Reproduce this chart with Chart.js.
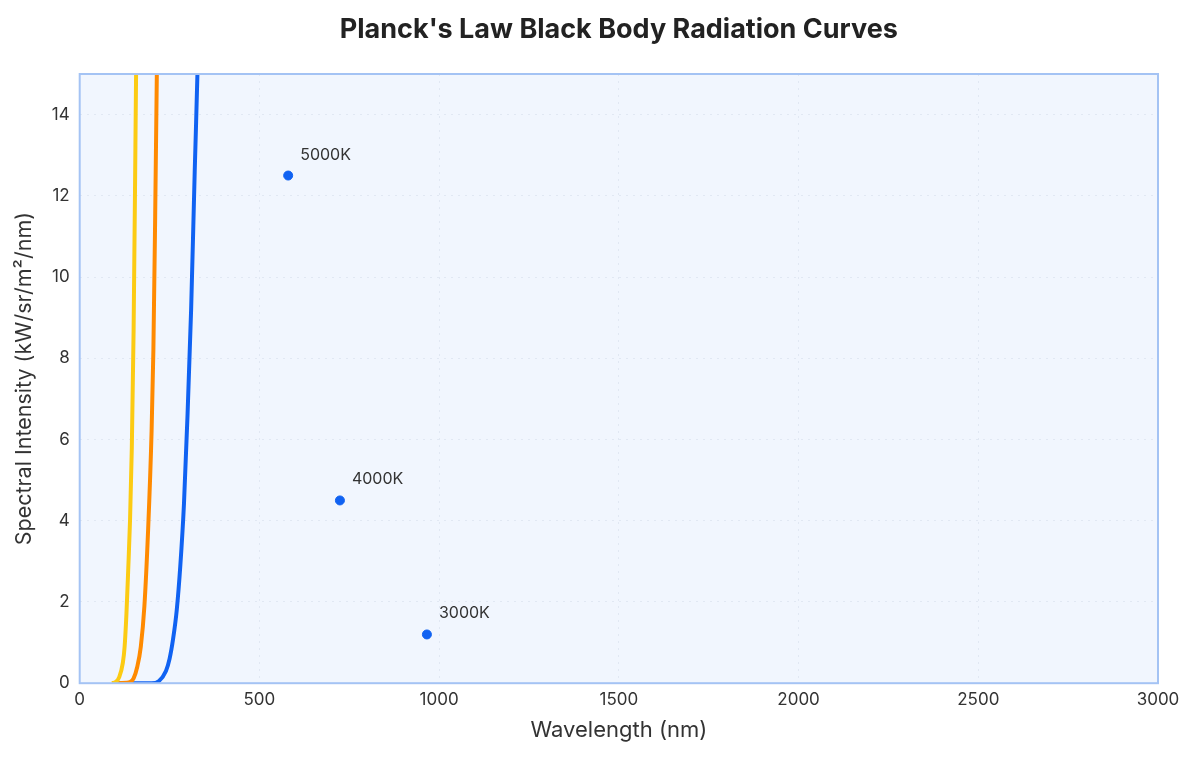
<!DOCTYPE html>
<html>
<head>
<meta charset="utf-8">
<script src="https://cdn.jsdelivr.net/npm/chart.js@4"></script>
<style>
  html, body { margin: 0; padding: 0; background: #fff; }
  #wrap { width: 1200px; height: 760px; }
</style>
</head>
<body>
<div id="wrap"><canvas id="chart" width="1200" height="760"></canvas></div>
<script>
// Data
const wavelength5000 = [90, 100, 110, 120, 125, 130, 135, 140, 145, 150, 155, 160];
const intensity5000  = [0, 0.03, 0.15, 0.5, 0.9, 1.7, 2.8, 4.0, 5.8, 8.7, 13.2, 18];

const wavelength4000 = [90, 130, 140, 150, 160, 170, 180, 190, 200, 205, 210, 215, 220];
const intensity4000  = [0, 0.01, 0.03, 0.12, 0.4, 0.9, 1.9, 3.7, 6.2, 8.2, 11.5, 15.3, 19];

const wavelength3000 = [90, 200, 220, 240, 250, 260, 270, 280, 290, 300, 310, 320, 330, 340];
const intensity3000  = [0, 0, 0.05, 0.3, 0.6, 1.1, 1.8, 2.9, 4.4, 6.6, 9.2, 12.6, 15.8, 20];

const peakWavelengths = [580, 724, 966];
const peakIntensities = [12.5, 4.5, 1.2];
const peakLabels = ['5000K', '4000K', '3000K'];

const xTicks = [0, 500, 1000, 1500, 2000, 2500, 3000];
const yTicks = [0, 2, 4, 6, 8, 10, 12, 14];

const chartTitle = "Planck's Law Black Body Radiation Curves";

const FONT = 'Inter, Lato, "Noto Sans", sans-serif';

function toPoints(xs, ys) {
    return xs.map((x, i) => ({ x: x, y: ys[i] }));
}

// plot background, frame and title centred over the plot
const plotFrame = {
    id: 'plotFrame',
    beforeDraw(chart) {
        const a = chart.chartArea;
        const ctx = chart.ctx;
        ctx.save();
        ctx.fillStyle = '#f1f6fe';
        ctx.fillRect(a.left, a.top, a.right - a.left, a.bottom - a.top);
        ctx.restore();
    },
    afterDatasetsDraw(chart) {
        const a = chart.chartArea;
        const ctx = chart.ctx;
        ctx.save();
        ctx.strokeStyle = '#a4c3f4';
        ctx.lineWidth = 2;
        ctx.strokeRect(a.left, a.top, a.right - a.left, a.bottom - a.top);

        ctx.font = 'bold 27px ' + FONT;
        ctx.fillStyle = '#222';
        ctx.textAlign = 'center';
        ctx.textBaseline = 'middle';
        ctx.fillText(chartTitle, (a.left + a.right) / 2, 30);
        ctx.restore();
    }
};

// labels next to peak points
const peakText = {
    id: 'peakText',
    afterDatasetsDraw(chart) {
        const meta = chart.getDatasetMeta(3);
        const ctx = chart.ctx;
        ctx.save();
        ctx.font = '16px ' + FONT;
        ctx.fillStyle = '#333';
        ctx.textAlign = 'left';
        ctx.textBaseline = 'alphabetic';
        meta.data.forEach((pt, i) => {
            ctx.fillText(peakLabels[i], pt.x + 12, pt.y - 16);
        });
        ctx.restore();
    }
};

const ctx = document.getElementById('chart').getContext('2d');
new Chart(ctx, {
    type: 'line',
    data: {
        datasets: [
            {
                label: '5000K',
                data: toPoints(wavelength5000, intensity5000),
                borderColor: '#fccb13',
                borderWidth: 4,
                pointRadius: 0,
                cubicInterpolationMode: 'monotone',
                fill: false
            },
            {
                label: '4000K',
                data: toPoints(wavelength4000, intensity4000),
                borderColor: '#ff8a00',
                borderWidth: 4,
                pointRadius: 0,
                cubicInterpolationMode: 'monotone',
                fill: false
            },
            {
                label: '3000K',
                data: toPoints(wavelength3000, intensity3000),
                borderColor: '#1062f2',
                borderWidth: 4,
                pointRadius: 0,
                cubicInterpolationMode: 'monotone',
                fill: false
            },
            {
                label: 'Peaks',
                type: 'scatter',
                data: toPoints(peakWavelengths, peakIntensities),
                backgroundColor: '#1062f2',
                borderColor: '#1062f2',
                pointRadius: 4.5,
                showLine: false
            }
        ]
    },
    options: {
        responsive: false,
        animation: false,
        layout: { padding: { left: 8, right: 42, top: 74, bottom: 12 } },
        plugins: {
            legend: { display: false },
            tooltip: { enabled: false },
            title: { display: false }
        },
        scales: {
            x: {
                type: 'linear',
                min: 0,
                max: 3000,
                afterBuildTicks: (axis) => { axis.ticks = xTicks.map(v => ({ value: v })); },
                grid: { color: '#e1e8f3', drawTicks: false },
                border: { display: false, dash: [2, 5] },
                ticks: {
                    color: '#333',
                    font: { family: FONT, size: 17 },
                    padding: 6,
                    callback: (v) => String(v)
                },
                title: {
                    display: true,
                    text: 'Wavelength (nm)',
                    color: '#333',
                    font: { family: FONT, size: 22 },
                    padding: { top: 2 }
                }
            },
            y: {
                min: 0,
                max: 15,
                afterBuildTicks: (axis) => { axis.ticks = yTicks.map(v => ({ value: v })); },
                grid: { color: '#e1e8f3', drawTicks: false },
                border: { display: false, dash: [2, 5] },
                ticks: { color: '#333', font: { family: FONT, size: 17 }, padding: 10 },
                title: {
                    display: true,
                    text: 'Spectral Intensity (kW/sr/m²/nm)',
                    color: '#333',
                    font: { family: FONT, size: 21.5 },
                    padding: { bottom: 4 }
                }
            }
        }
    },
    plugins: [plotFrame, peakText]
});
</script>
</body>
</html>
